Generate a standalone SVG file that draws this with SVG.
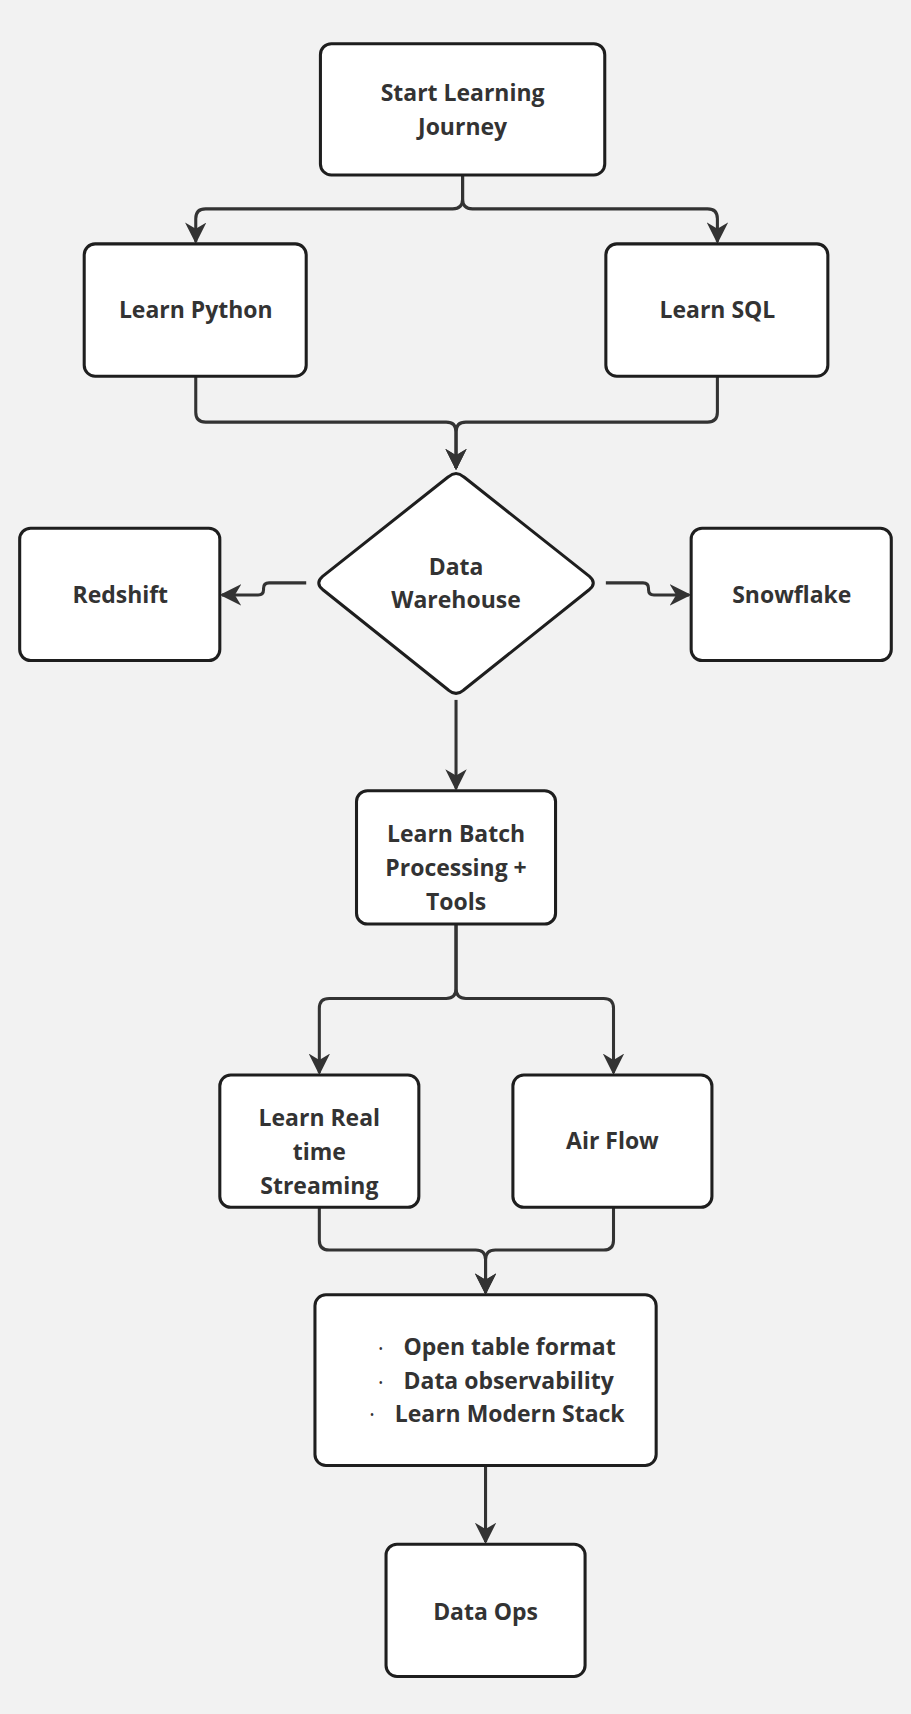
<svg xmlns="http://www.w3.org/2000/svg" width="911" height="1714" viewBox="0 0 911 1714">
<style>
.n{fill:#fff;stroke:#1e1e1e;stroke-width:2.8}
.t{font-family:"Open Sans","Noto Sans",sans-serif;font-weight:bold;font-size:21px;fill:#333;text-anchor:middle}
.l{font-family:"Open Sans","Noto Sans",sans-serif;font-weight:bold;font-size:21px;fill:#333}
.b{font-family:"Open Sans","Noto Sans",sans-serif;font-size:11px;fill:#333}
.c{fill:none;stroke:#333;stroke-width:2.8}
</style>
<defs><marker id="a" viewBox="0 0 10 10" refX="9" refY="5" markerWidth="7" markerHeight="7" orient="auto" markerUnits="strokeWidth"><path d="M0,0 L10,5 L0,10 L3,5 z" fill="#333"/></marker></defs>
<rect width="911" height="1714" fill="#f2f2f2"/>
<g transform="scale(1.0936)">
<g id="connectors">
<path class="c" marker-end="url(#a)" d="M423,160 V182 Q423,191 414,191 H188 Q179,191 179,200 V221"/>
<path class="c" marker-end="url(#a)" d="M423,160 V182 Q423,191 432,191 H647 Q656,191 656,200 V221"/>
<path class="c" marker-end="url(#a)" d="M179,344 V377 Q179,386 188,386 H408 Q417,386 417,395 V428"/>
<path class="c" marker-end="url(#a)" d="M656,344 V377 Q656,386 647,386 H426 Q417,386 417,395 V428"/>
<path class="c" marker-end="url(#a)" d="M280,533 H246 Q241,533 241,538 V539 Q241,544 236,544 H203"/>
<path class="c" marker-end="url(#a)" d="M554,533 H588 Q593,533 593,538 V539 Q593,544 598,544 H630"/>
<path class="c" marker-end="url(#a)" d="M417,640 V721"/>
<path class="c" marker-end="url(#a)" d="M417,845 V904 Q417,913 408,913 H301 Q292,913 292,922 V981"/>
<path class="c" marker-end="url(#a)" d="M417,845 V904 Q417,913 426,913 H552 Q561,913 561,922 V981"/>
<path class="c" marker-end="url(#a)" d="M292,1104 V1134 Q292,1143 301,1143 H435 Q444,1143 444,1152 V1182"/>
<path class="c" marker-end="url(#a)" d="M561,1104 V1134 Q561,1143 552,1143 H453 Q444,1143 444,1152 V1182"/>
<path class="c" marker-end="url(#a)" d="M444,1340 V1410"/>
</g>
<g id="start"><rect class="n" x="293" y="40" width="260" height="120" rx="10"/><text class="t" x="423" y="92">Start Learning</text><text class="t" x="423" y="123">Journey</text></g>
<g id="python"><rect class="n" x="77" y="223" width="203" height="121" rx="10"/><text class="t" x="179" y="291">Learn Python</text></g>
<g id="sql"><rect class="n" x="554" y="223" width="203" height="121" rx="10"/><text class="t" x="656" y="291">Learn SQL</text></g>
<g id="warehouse"><path class="n" stroke-linejoin="round" d="M410,436 Q417,430 424,436 L539,527 Q546,533 539,539 L424,631 Q417,637 410,631 L295,539 Q288,533 295,527 Z"/><text class="t" x="417" y="526">Data</text><text class="t" x="417" y="556">Warehouse</text></g>
<g id="redshift"><rect class="n" x="18" y="483" width="183" height="121" rx="10"/><text class="t" x="110" y="551">Redshift</text></g>
<g id="snowflake"><rect class="n" x="632" y="483" width="183" height="121" rx="10"/><text class="t" x="724" y="551">Snowflake</text></g>
<g id="batch"><rect class="n" x="326" y="723" width="182" height="122" rx="10"/><text class="t" x="417" y="770">Learn Batch</text><text class="t" x="417" y="801">Processing +</text><text class="t" x="417" y="832">Tools</text></g>
<g id="streaming"><rect class="n" x="201" y="983" width="182" height="121" rx="10"/><text class="t" x="292" y="1030">Learn Real</text><text class="t" x="292" y="1061">time</text><text class="t" x="292" y="1092">Streaming</text></g>
<g id="airflow"><rect class="n" x="469" y="983" width="182" height="121" rx="10"/><text class="t" x="560" y="1051">Air Flow</text></g>
<g id="modern"><rect class="n" x="288" y="1184" width="312" height="156" rx="10"/>
<text class="b" x="346" y="1237">•</text><text class="l" x="369" y="1239">Open table format</text>
<text class="b" x="346" y="1268">•</text><text class="l" x="369" y="1270">Data observability</text>
<text class="b" x="338" y="1298">•</text><text class="l" x="361" y="1300">Learn Modern Stack</text></g>
<g id="dataops"><rect class="n" x="353" y="1412" width="182" height="121" rx="10"/><text class="t" x="444" y="1481">Data Ops</text></g>
</g>
</svg>
